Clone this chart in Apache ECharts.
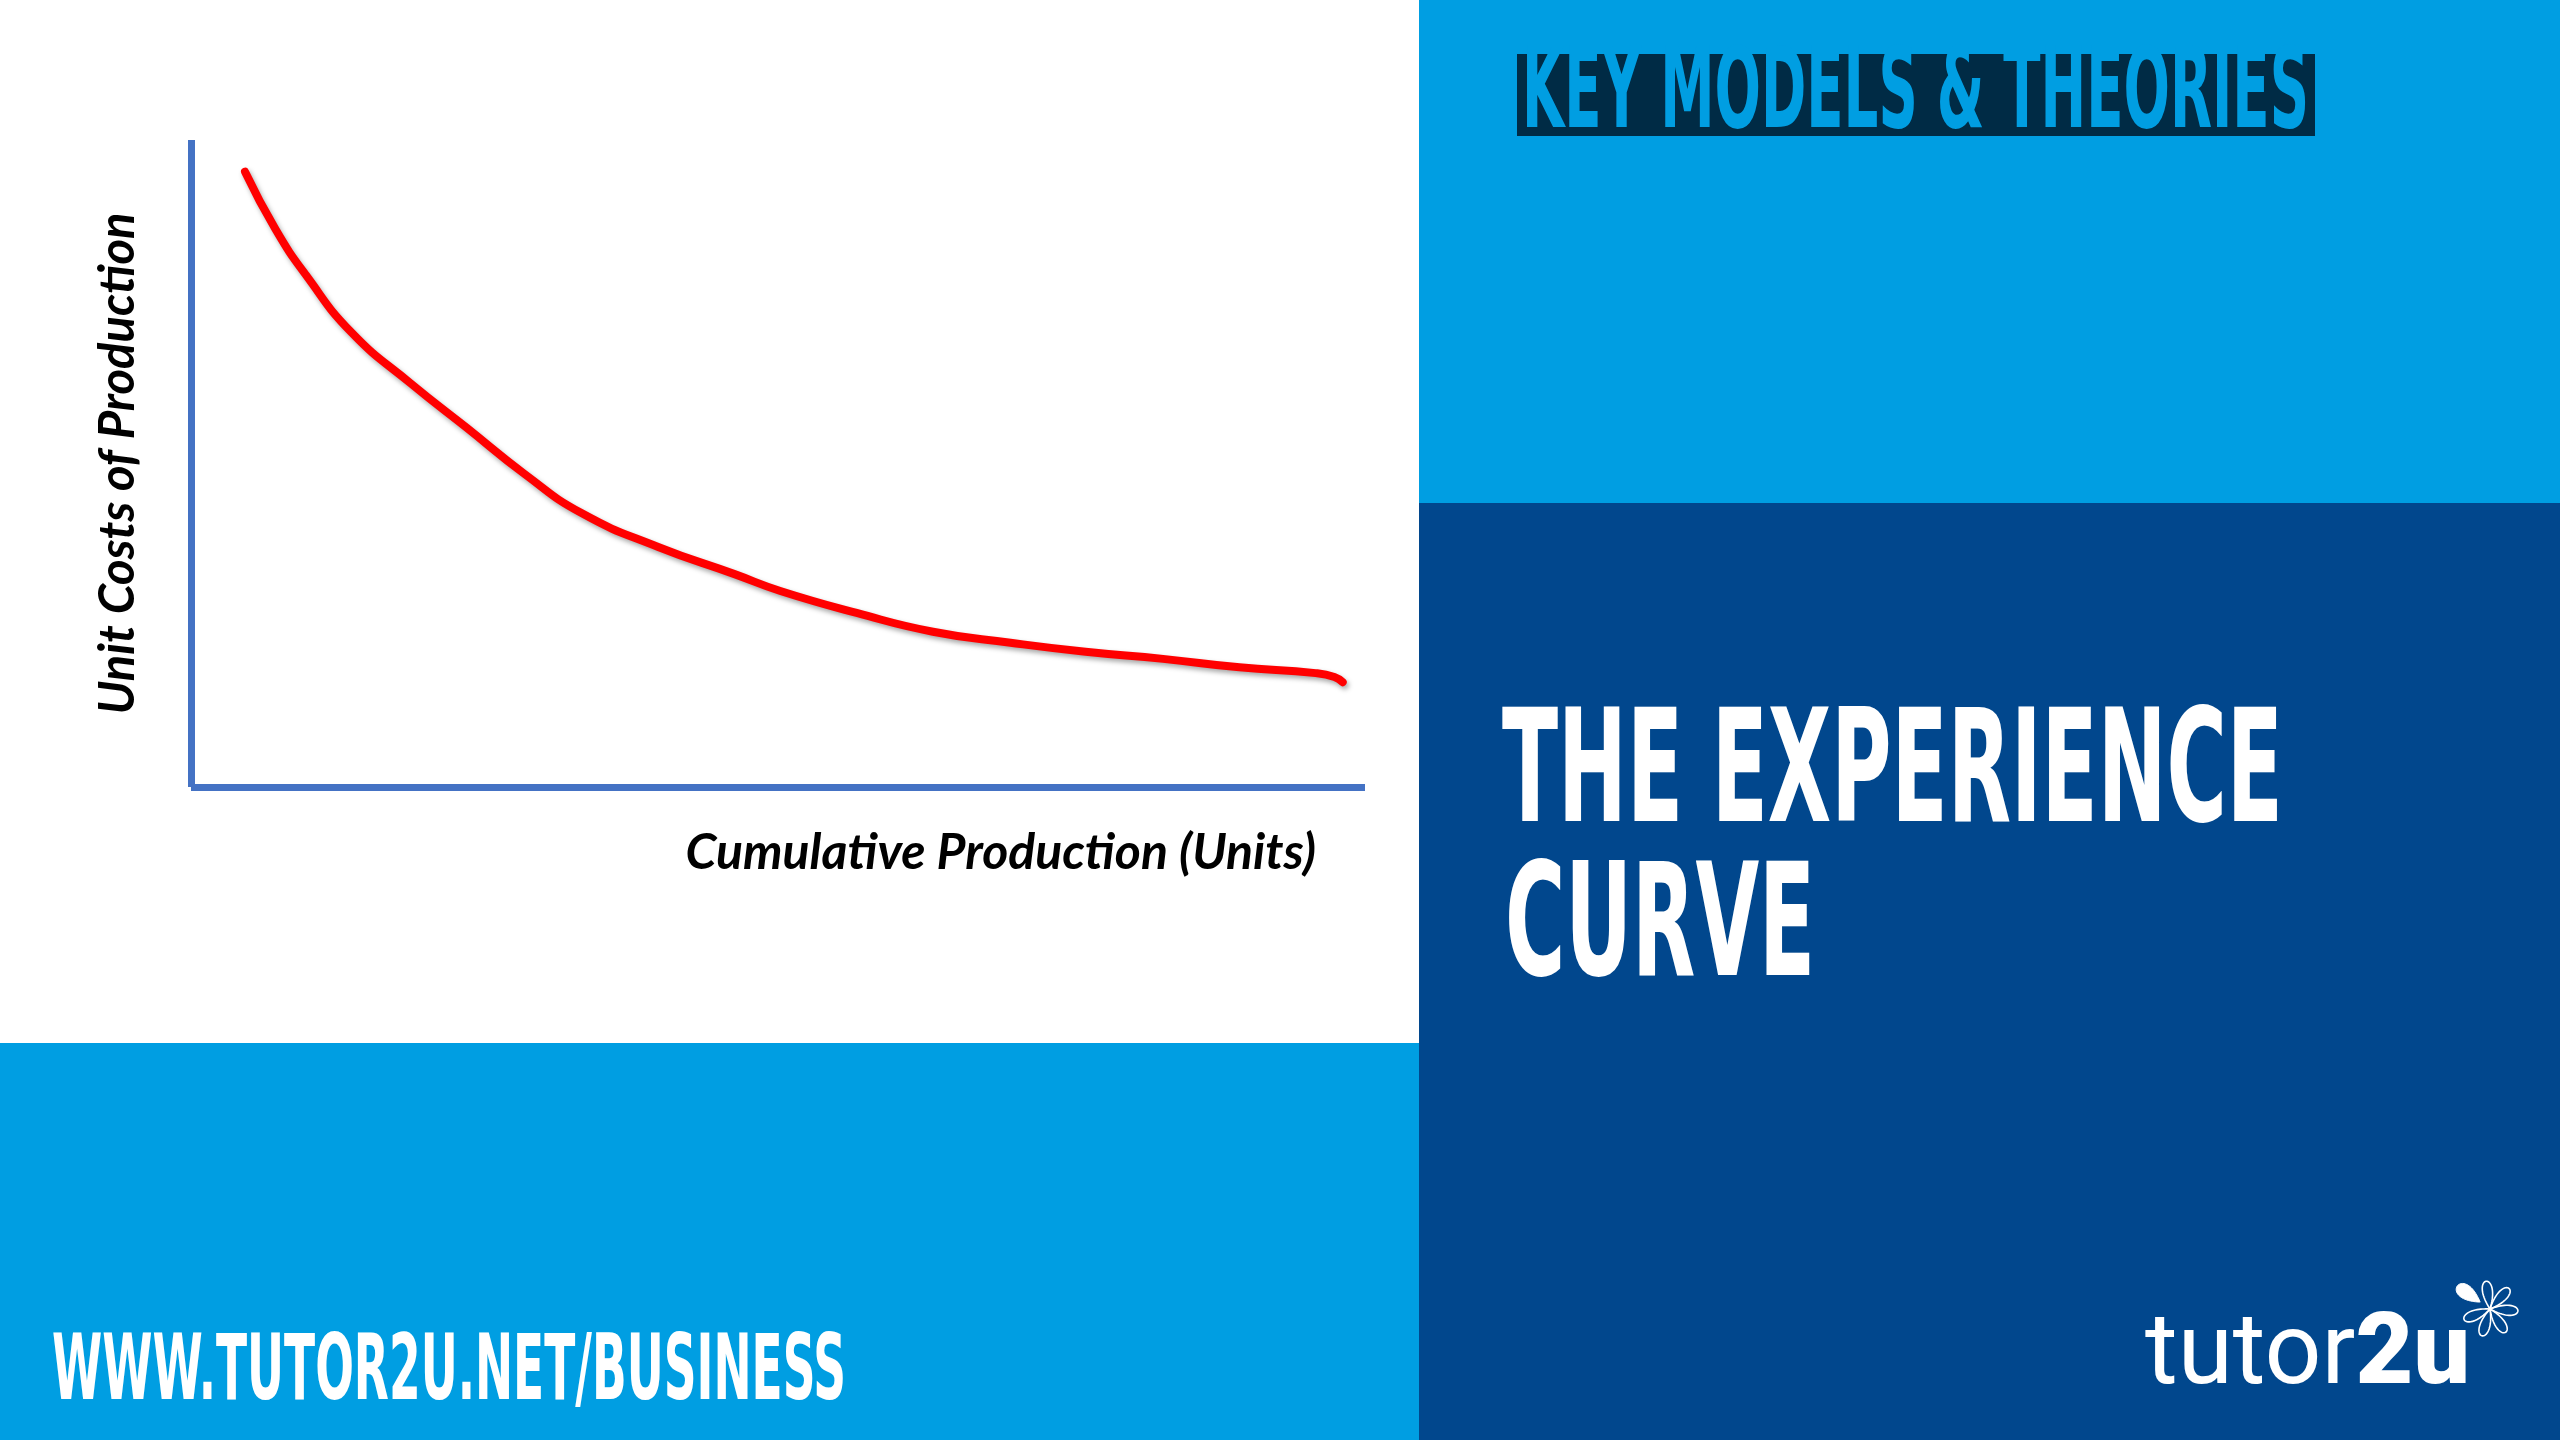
<!DOCTYPE html>
<html><head><meta charset="utf-8">
<script src="https://cdn.jsdelivr.net/npm/echarts@6/dist/echarts.min.js"></script>
<style>html,body{margin:0;padding:0;background:#fff;overflow:hidden}#c{width:2560px;height:1440px}</style>
</head><body><div id="c"></div>
<script>
// ---- data (x: cumulative production, y: unit cost; both on a 0-100 scale)
const cumulativeProduction = [4.6, 7.2, 9.8, 13.7, 18.7, 23.5, 28.4, 33.3, 39.8, 46.3, 50.2, 56.7, 63.2, 69.8, 76.2, 82.8, 89.3, 95.8, 97.4, 98.1];
const unitCost = [95.1, 86.2, 79.1, 70.2, 62.4, 55.5, 48.4, 42.3, 37.1, 32.9, 30.3, 26.9, 24.0, 22.3, 20.9, 19.8, 18.5, 17.6, 17.0, 16.2];
const xAxisTitle = 'Cumulative Production (Units)';
const yAxisTitle = 'Unit Costs of Production';
const badgeText = 'KEY MODELS & THEORIES';
const titleLines = ['THE EXPERIENCE', 'CURVE'];
const urlText = 'WWW.TUTOR2U.NET/BUSINESS';
const logoParts = ['tutor', '2u'];

const LIGHT = '#009EE2', DARK = '#01478D', NAVY = '#002B45';
const ctx = document.createElement('canvas').getContext('2d');
function measure(text, font) { ctx.font = font; return ctx.measureText(text).width; }

const labelFont = 'italic bold 44px Lato';
const xNameSize = 44 * 630 / measure(xAxisTitle, labelFont);
const yNameSize = 44 * 502 / measure(yAxisTitle, labelFont);

const condFam = '"DejaVu Sans Condensed", "DejaVu Sans"';
function fitText(text, size, targetW) {
  const w = measure(text, 'bold ' + size + 'px ' + condFam);
  return targetW / w;
}
const titleSize = 156, badgeSize = 112, urlSize = 90;
const titleScale = fitText(titleLines[0], titleSize, 781);
const badgeScale = fitText(badgeText, badgeSize, 787);
const urlScale = fitText(urlText, urlSize, 794);

function condText(text, x, y, size, scale, fill) {
  return {
    type: 'text', x: x, y: y, scaleX: scale, z: 10,
    style: {
      text: text, x: 0, y: 0, fill: fill,
      font: 'bold ' + size + 'px ' + condFam,
      align: 'left', verticalAlign: 'middle', textAlign: 'left', textVerticalAlign: 'middle'
    }
  };
}

// flower decoration of the logo
function petal(cx, cy, angDeg, r0, L, W) {
  const a = angDeg * Math.PI / 180, pts = [];
  for (let i = 0; i <= 48; i++) {
    const t = i / 48 * Math.PI * 2;
    const u = L * (1 - Math.cos(t)) / 2;
    const v = (W / 2) * Math.sin(t) * Math.sqrt(u / L);
    const px = r0 + u;
    pts.push([cx + px * Math.cos(a) - v * Math.sin(a), cy + px * Math.sin(a) + v * Math.cos(a)]);
  }
  return pts;
}
const fc = [2490, 1309];
const flower = [-98, -47, 4, 56, 107, 158].map(function (ang) {
  return { type: 'polygon', z: 10, shape: { points: petal(fc[0], fc[1], ang, 0, 28, 13) },
    style: { fill: 'none', stroke: '#fff', lineWidth: 1.6 } };
});
flower.push({ type: 'polygon', z: 10, shape: { points: petal(fc[0], fc[1], -145, 12, 28, 18) },
  style: { fill: '#fff', stroke: '#fff', lineWidth: 1 } });

const chart = echarts.init(document.getElementById('c'), null, { renderer: 'canvas' });
chart.setOption({
  backgroundColor: '#ffffff',
  animation: false,
  grid: { left: 191, top: 140, width: 1174, height: 647, containLabel: false },
  xAxis: {
    type: 'value', min: 0, max: 100,
    axisLine: { show: true, onZero: false, lineStyle: { color: '#4472C4', width: 7, cap: 'butt' } },
    axisTick: { show: false }, axisLabel: { show: false }, splitLine: { show: false }
  },
  yAxis: {
    type: 'value', min: 0, max: 100,
    axisLine: { show: true, onZero: false, lineStyle: { color: '#4472C4', width: 7, cap: 'butt' } },
    axisTick: { show: false }, axisLabel: { show: false }, splitLine: { show: false },
    name: yAxisTitle, nameLocation: 'middle', nameGap: 48,
    nameTextStyle: { fontFamily: 'Lato', fontStyle: 'italic', fontWeight: 'bold', fontSize: yNameSize, color: '#000' }
  },
  series: [{
    type: 'line', smooth: 0.5, symbol: 'none',
    data: cumulativeProduction.map(function (x, i) { return [x, unitCost[i]]; }),
    lineStyle: { color: '#FF0000', width: 8, cap: 'round', join: 'round',
      shadowColor: 'rgba(0,0,0,0.35)', shadowBlur: 5, shadowOffsetX: 2, shadowOffsetY: 3 }
  }],
  graphic: { elements: [
    { type: 'rect', z: -5, shape: { x: 1419, y: 0, width: 1141, height: 503 }, style: { fill: LIGHT } },
    { type: 'rect', z: -5, shape: { x: 1419, y: 503, width: 1141, height: 937 }, style: { fill: DARK } },
    { type: 'rect', z: -5, shape: { x: 0, y: 1043, width: 1419, height: 397 }, style: { fill: LIGHT } },
    { type: 'text', x: 1316, y: 853, z: 10,
      style: { text: xAxisTitle, x: 0, y: 0, fill: '#000',
        font: 'italic bold ' + xNameSize.toFixed(1) + 'px Lato',
        align: 'right', verticalAlign: 'middle', textAlign: 'right', textVerticalAlign: 'middle' } },
    { type: 'rect', z: 5, shape: { x: 1517, y: 54, width: 798, height: 82 }, style: { fill: NAVY } },
    condText(badgeText, 1522, 98, badgeSize, badgeScale, LIGHT),
    condText(titleLines[0], 1502, 780, titleSize, titleScale, '#fff'),
    condText(titleLines[1], 1505, 934, titleSize, titleScale, '#fff'),
    condText(urlText, 52, 1376, urlSize, urlScale, '#fff'),
    { type: 'text', x: 2145, y: 1358, z: 10,
      style: { text: '{a|' + logoParts[0] + '}{b|' + logoParts[1] + '}', x: 0, y: 0,
        align: 'left', verticalAlign: 'middle', textAlign: 'left', textVerticalAlign: 'middle',
        rich: {
          a: { fontFamily: 'Roboto', fontWeight: 400, fontSize: 100, fill: '#fff', color: '#fff' },
          b: { fontFamily: 'Roboto', fontWeight: 900, fontSize: 100, fill: '#fff', color: '#fff' }
        } } }
  ].concat(flower) }
});
</script>
</body></html>
